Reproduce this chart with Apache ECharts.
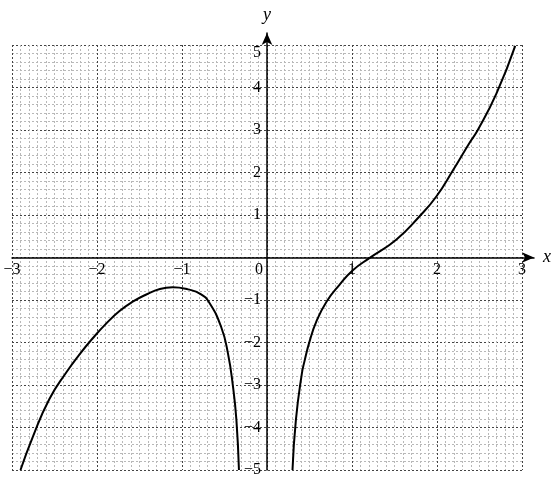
<!DOCTYPE html>
<html>
<head>
<meta charset="utf-8">
<script src="https://cdn.jsdelivr.net/npm/echarts@6/dist/echarts.min.js"></script>
<style>
html,body{margin:0;padding:0;background:#fff;}
#chart{width:557px;height:477px;}
</style>
</head>
<body>
<div id="chart"></div>
<script>
// Tick values
const xTicks = [-3, -2, -1, 0, 1, 2, 3];
const yTicks = [-5, -4, -3, -2, -1, 0, 1, 2, 3, 4, 5];

// Left branch (x < 0)
const leftX = [-2.90, -2.755, -2.56, -2.36, -2.21, -2.05, -1.89, -1.735, -1.58, -1.42, -1.26, -1.11, -0.93, -0.78, -0.68, -0.54, -0.46, -0.40, -0.36, -0.33];
const leftY = [-5.0, -4.22, -3.33, -2.70, -2.29, -1.90, -1.55, -1.26, -1.04, -0.87, -0.74, -0.70, -0.75, -0.86, -1.06, -1.63, -2.25, -3.04, -3.82, -5.0];

// Right branch (x > 0)
const rightX = [0.30, 0.34, 0.41, 0.44, 0.50, 0.58, 0.70, 0.85, 1.01, 1.20, 1.52, 1.79, 1.99, 2.19, 2.38, 2.48, 2.70, 2.92];
const rightY = [-5.0, -3.82, -2.73, -2.45, -1.98, -1.51, -1.04, -0.65, -0.30, -0.02, 0.42, 0.96, 1.43, 2.06, 2.69, 3.0, 3.86, 4.98];

const FONT = 'Liberation Serif';
const minusFmt = v => (v < 0 ? '\u2212' + Math.abs(v) : String(v));

const chart = echarts.init(document.getElementById('chart'), null, {renderer: 'canvas'});

const xMin = xTicks[0], xMax = xTicks[xTicks.length - 1];
const yMin = yTicks[0], yMax = yTicks[yTicks.length - 1];

// layout (pixels)
const G = {left: 12, right: 35, top: 45, bottom: 7};
const W = 557, H = 477;
const gridW = W - G.left - G.right;
const gridH = H - G.top - G.bottom;
// shift label-carrying axes from the grid edge to the zero lines
const xAxisOffset = -gridH * (0 - yMin) / (yMax - yMin);
const yAxisOffset = -gridW * (0 - xMin) / (xMax - xMin);

chart.setOption({
  animation: false,
  backgroundColor: '#fff',
  grid: [
    {left: G.left, right: G.right, top: G.top, bottom: G.bottom, containLabel: false, outerBoundsMode: 'none'},
    {left: G.left, right: 23, top: 33, bottom: G.bottom, containLabel: false, outerBoundsMode: 'none'}
  ],
  xAxis: [
    {
      type: 'value', gridIndex: 0, min: xMin, max: xMax, interval: 1,
      position: 'bottom', offset: xAxisOffset,
      axisLine: {show: false, onZero: false},
      axisTick: {show: false},
      axisLabel: {
        show: true, margin: 4, color: '#000', fontFamily: FONT, fontSize: 16,
        formatter: v => (v === 0 ? '{z|0}' : minusFmt(v)),
        rich: {z: {fontFamily: FONT, fontSize: 16, color: '#000', padding: [0, 16, 0, 0]}}
      },
      splitLine: {show: true, lineStyle: {color: '#444', width: 1, type: [2, 2]}},
      minorTick: {show: false, splitNumber: 10},
      minorSplitLine: {show: true, lineStyle: {color: '#b8b8b8', width: 1, type: [2, 2]}}
    },
    {
      type: 'value', gridIndex: 1, min: xMin, max: xMax + 12 / 85,
      axisLine: {show: true, onZero: true, symbol: ['none', 'arrow'], symbolSize: [8, 12],
        lineStyle: {color: '#000', width: 1.5}},
      axisTick: {show: false}, axisLabel: {show: false}, splitLine: {show: false},
      name: 'x', nameLocation: 'end', nameGap: 9,
      nameTextStyle: {fontFamily: FONT, fontStyle: 'italic', fontSize: 18, color: '#000'}
    }
  ],
  yAxis: [
    {
      type: 'value', gridIndex: 0, min: yMin, max: yMax, interval: 1,
      position: 'left', offset: yAxisOffset,
      axisLine: {show: false, onZero: false},
      axisTick: {show: false},
      axisLabel: {
        show: true, margin: 6, color: '#000', fontFamily: FONT, fontSize: 16,
        formatter: v => (v === 0 ? '' : (v === yMax ? '{t|' + v + '}' : minusFmt(v))),
        rich: {t: {fontFamily: FONT, fontSize: 16, color: '#000', padding: [16, 0, 0, 0]}}
      },
      splitLine: {show: true, lineStyle: {color: '#444', width: 1, type: [2, 2]}},
      minorTick: {show: false, splitNumber: 5},
      minorSplitLine: {show: true, lineStyle: {color: '#b8b8b8', width: 1, type: [2, 2]}}
    },
    {
      type: 'value', gridIndex: 1, min: yMin, max: yMax + 12 / 42.5,
      axisLine: {show: true, onZero: true, symbol: ['none', 'arrow'], symbolSize: [8, 12],
        lineStyle: {color: '#000', width: 1.5}},
      axisTick: {show: false}, axisLabel: {show: false}, splitLine: {show: false},
      name: 'y', nameLocation: 'end', nameGap: 9,
      nameTextStyle: {fontFamily: FONT, fontStyle: 'italic', fontSize: 18, color: '#000'}
    }
  ],
  series: [
    {
      type: 'line', xAxisIndex: 0, yAxisIndex: 0,
      data: leftX.map((x, i) => [x, leftY[i]]),
      showSymbol: false, smooth: 0.5,
      lineStyle: {color: '#000', width: 2}, z: 5
    },
    {
      type: 'line', xAxisIndex: 0, yAxisIndex: 0,
      data: rightX.map((x, i) => [x, rightY[i]]),
      showSymbol: false, smooth: 0.5,
      lineStyle: {color: '#000', width: 2}, z: 5
    }
  ]
});
</script>
</body>
</html>
